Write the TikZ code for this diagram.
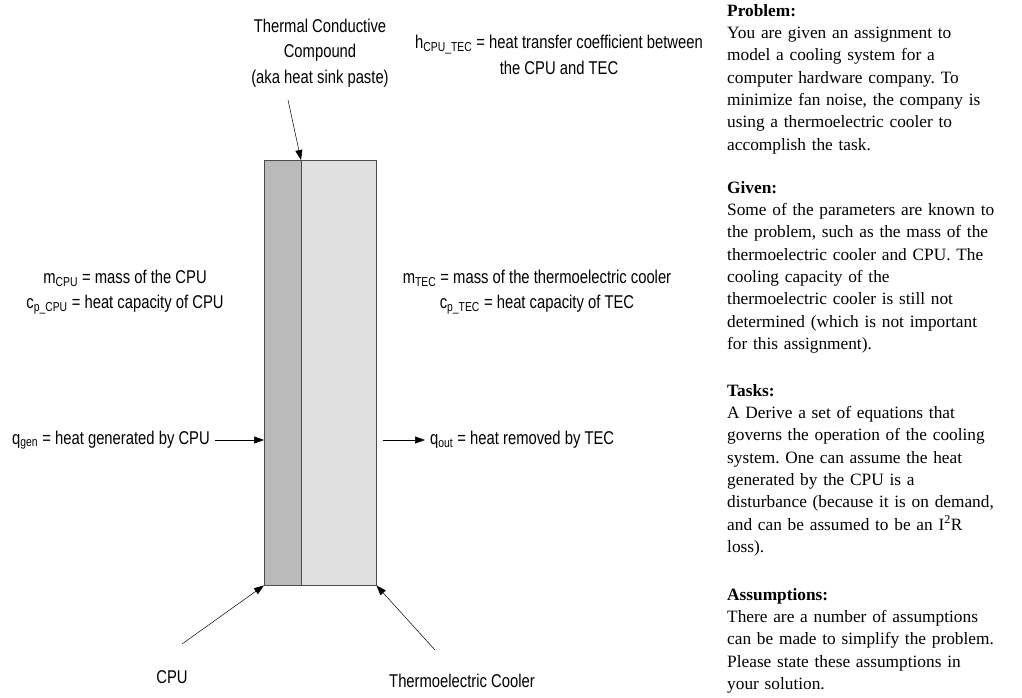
\documentclass[tikz,border=0pt]{standalone}
\usepackage{fontspec}
\setmainfont{Liberation Serif}
\newfontfamily\narrowsans[FakeStretch=0.8]{Liberation Sans}
\usetikzlibrary{arrows.meta}
\frenchspacing
\tikzset{
  lab/.style={font=\narrowsans\fontsize{18.5}{25.5}\selectfont, inner sep=0pt, align=center},
  para/.style={font=\fontsize{17.3}{22.3}\selectfont, inner sep=0pt, align=left, anchor=north west, text width=300pt},
  arr/.style={-{Triangle[length=10pt,width=7pt]}, line width=0.5pt},
}
\begin{document}
\begin{tikzpicture}[x=1pt,y=-1pt]
\useasboundingbox (0,0) rectangle (1022,698);
% blocks
\node[draw=black!70, fill=black!27, minimum width=37pt, minimum height=425pt, inner sep=0, anchor=north west] (cpu) at (264,160) {};
\node[draw=black!70, fill=black!12, minimum width=75pt, minimum height=425pt, inner sep=0, anchor=north west] (tec) at (301,160) {};
\coordinate (tcctop) at (301,160);
% labels
\node[lab] (tcc) at (320,53) {Thermal Conductive\\Compound\\(aka heat sink paste)};
\node[lab] (htec) at (559,55) {h\textsubscript{CPU\_TEC} = heat transfer coefficient between\\the CPU and TEC};
\draw[arr] (288,100) -- (tcctop);
\node[lab] (mcpu) at (125,292) {m\textsubscript{CPU} = mass of the CPU\\c\textsubscript{p\_CPU} = heat capacity of CPU};
\node[lab] (mtec) at (537,292) {m\textsubscript{TEC} = mass of the thermoelectric cooler\\c\textsubscript{p\_TEC} = heat capacity of TEC};
\node[lab, anchor=east] (qgen) at (210,440) {q\textsubscript{gen} = heat generated by CPU};
\node[lab, anchor=west] (qout) at (430,440) {q\textsubscript{out} = heat removed by TEC};
\draw[arr] (qgen.east) ++(5,0) -- (cpu.west |- qgen.east);
\draw[arr] (tec.east |- qout.west) ++(7,0) -- ([xshift=-5pt]qout.west);
\node[lab] (cpulab) at (172,677) {CPU};
\node[lab] (teclab) at (462,681) {Thermoelectric Cooler};
\draw[arr] (182,644) -- (cpu.south west);
\draw[arr] (435,650) -- (tec.south east);
% right text
\node[para] (p1) at (727,4) {\textbf{Problem:}\\You are given an assignment to\\model a cooling system for a\\computer hardware company. To\\minimize fan noise, the company is\\using a thermoelectric cooler to\\accomplish the task.};
\node[para] (p2) at (727,181) {\textbf{Given:}\\Some of the parameters are known to\\the problem, such as the mass of the\\thermoelectric cooler and CPU. The\\cooling capacity of the\\thermoelectric cooler is still not\\determined (which is not important\\for this assignment).};
\node[para] (p3) at (727,384) {\textbf{Tasks:}\\A Derive a set of equations that\\governs the operation of the cooling\\system. One can assume the heat\\generated by the CPU is a\\disturbance (because it is on demand,\\and can be assumed to be an I\textsuperscript{2}R\\loss).};
\node[para] (p4) at (727,588) {\textbf{Assumptions:}\\There are a number of assumptions\\can be made to simplify the problem.\\Please state these assumptions in\\your solution.};
\end{tikzpicture}
\end{document}
